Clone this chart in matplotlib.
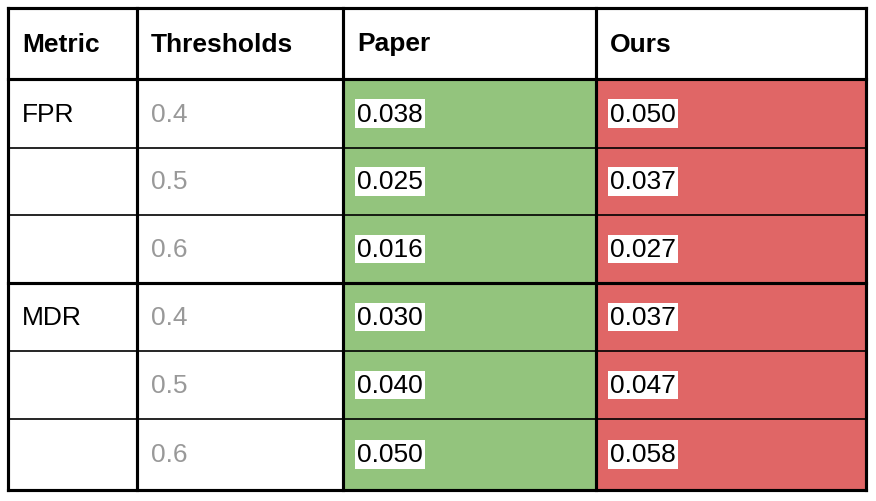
import matplotlib
matplotlib.use("Agg")
import matplotlib.pyplot as plt
from matplotlib.patches import Rectangle

headers = ["Metric", "Thresholds", "Paper", "Ours"]
metrics = ["FPR", "", "", "MDR", "", ""]
thresholds = ["0.4", "0.5", "0.6", "0.4", "0.5", "0.6"]
paper = ["0.038", "0.025", "0.016", "0.030", "0.040", "0.050"]
ours = ["0.050", "0.037", "0.027", "0.037", "0.047", "0.058"]

W, H = 876, 502
fig = plt.figure(figsize=(W/100, H/100), dpi=100)
ax = fig.add_axes([0, 0, 1, 1])
ax.set_xlim(0, W); ax.set_ylim(H, 0); ax.axis("off")

xs = [8, 137, 343, 596, 866]
ys = [9, 80, 149, 216, 284, 352, 420, 491]
green, red = "#93C47D", "#E06666"
font = "Liberation Sans"

for i in range(6):
    y0, y1 = ys[i+1], ys[i+2]
    ax.add_patch(Rectangle((xs[2], y0), xs[3]-xs[2], y1-y0, color=green, lw=0))
    ax.add_patch(Rectangle((xs[3], y0), xs[4]-xs[3], y1-y0, color=red, lw=0))
    yc = (y0+y1)/2
    ax.text(xs[0]+14, yc, metrics[i], va="center", ha="left", fontsize=19, family=font, color="black")
    ax.text(xs[1]+14, yc, thresholds[i], va="center", ha="left", fontsize=19, family=font, color="#999999")
    for xi, v in ((2, paper[i]), (3, ours[i])):
        ax.text(xs[xi]+14, yc, v, va="center", ha="left", fontsize=19, family=font, color="black",
                bbox=dict(facecolor="white", edgecolor="none", pad=1.5))

for j, h in enumerate(headers):
    ax.text(xs[j]+14, (ys[0]+ys[1])/2, h, va="center", ha="left", fontsize=19, family=font,
            fontweight="bold", color="black")

for k, y in enumerate(ys):
    lw = 3 if k in (0, 1, 4, len(ys)-1) else 1.6
    ax.plot([xs[0], xs[-1]], [y, y], color="black", lw=lw*0.75, solid_capstyle="projecting")
for x in xs:
    ax.plot([x, x], [ys[0], ys[-1]], color="black", lw=3*0.75, solid_capstyle="projecting")

fig.savefig("out.png", dpi=100)
